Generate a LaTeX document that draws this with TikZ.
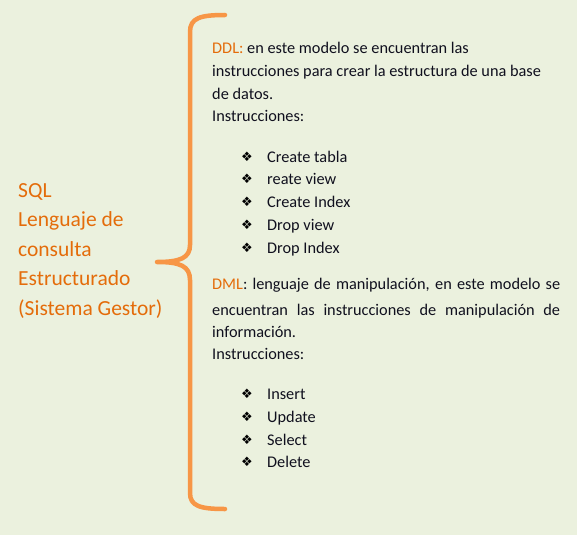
\documentclass[tikz,border=0pt]{standalone}
\usepackage{fontspec}
\setmainfont{Carlito}
\newfontfamily\symfont{DejaVu Sans}
\definecolor{bg}{HTML}{EBF1DE}
\definecolor{brace}{HTML}{F79646}
\definecolor{orangetxt}{HTML}{E46C0A}
\definecolor{bodytxt}{HTML}{10101E}
\tikzset{
  lefttxt/.style={anchor=base west, inner sep=0pt, font=\fontsize{21.5}{25}\selectfont, text=orangetxt},
  bodyline/.style={anchor=base west, inner sep=0pt, font=\fontsize{16.3}{19}\selectfont, text=bodytxt},
  bulletmark/.style={anchor=base, inner sep=0pt, font=\symfont\fontsize{13}{15}\selectfont, text=black},
  bracestyle/.style={draw=brace, line width=4.5pt, line cap=round, line join=round}
}
\begin{document}
\begin{tikzpicture}[x=1pt,y=-1pt]
\useasboundingbox (0,0) rectangle (577,535);
\fill[bg] (0,0) rectangle (577,535);
% brace
\draw[bracestyle] (225,15) .. controls (200,15) and (190,18) .. (190,32)
  -- (190,245) .. controls (190,258) and (180,262) .. (157,262)
  .. controls (180,262) and (190,266) .. (190,280)
  -- (190,493) .. controls (190,506) and (200,509) .. (225,509);
% left label
\node[lefttxt] (l1) at (18,197) {SQL};
\node[lefttxt] (l2) at (18,226.5) {Lenguaje de};
\node[lefttxt] (l3) at (18,256) {consulta};
\node[lefttxt] (l4) at (18,285.5) {Estructurado};
\node[lefttxt] (l5) at (18,315) {(Sistema Gestor)};
% DDL
\node[bodyline] (d1) at (212,53) {\textcolor{orangetxt}{DDL:} en este modelo se encuentran las};
\node[bodyline] (d2) at (212,76) {instrucciones para crear la estructura de una base};
\node[bodyline] (d3) at (212,99) {de datos.};
\node[bodyline] (d4) at (212,121) {Instrucciones:};
\foreach \t/\y [count=\i] in {Create tabla/162, reate view/184, Create Index/207, Drop view/230, Drop Index/253}{
  \node[bulletmark] (db\i) at (247,\y-1) {❖};
  \node[bodyline] (dt\i) at (267,\y) {\t};
}
% DML
\node[bodyline] (m1) at (212,289) {\makebox[348pt][s]{\textcolor{orangetxt}{DML}: lenguaje de manipulación, en este modelo se}};
\node[bodyline] (m2) at (212,315) {\makebox[348pt][s]{encuentran las instrucciones de manipulación de}};
\node[bodyline] (m3) at (212,337) {información.};
\node[bodyline] (m4) at (212,359) {Instrucciones:};
\foreach \t/\y [count=\i] in {Insert/399, Update/422, Select/445, Delete/467}{
  \node[bulletmark] (mb\i) at (247,\y-1) {❖};
  \node[bodyline] (mt\i) at (267,\y) {\t};
}
\end{tikzpicture}
\end{document}
